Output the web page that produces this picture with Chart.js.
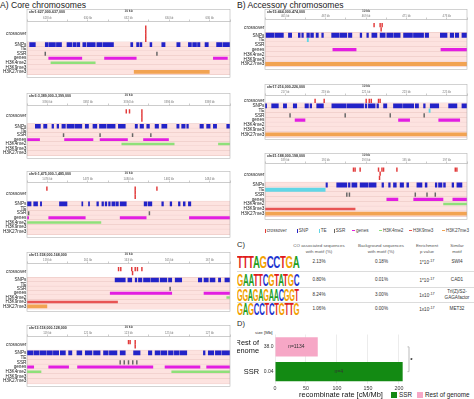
<!DOCTYPE html>
<html>
<head>
<meta charset="utf-8">
<script src="https://cdn.jsdelivr.net/npm/chart.js@4.4.1/dist/chart.umd.min.js"></script>
<style>
  body { margin: 0; width: 474px; height: 399px; position: relative; overflow: hidden; background: #fff;
         font-family: "Liberation Sans", Arial, sans-serif; color: #222; }
  canvas { position: absolute; }
  .t { position: absolute; white-space: nowrap; }
  .c { position: absolute; white-space: nowrap; transform: translate(-50%, -50%); text-align: center; }
  .hdr { font-size: 4.4px; color: #555; line-height: 5.6px; }
  .val { font-size: 4.6px; color: #333; }
  .motif { position: absolute; left: 237px; font-weight: bold; font-family: "Liberation Sans Narrow", "Liberation Sans", sans-serif;
           font-size: 14px; transform-origin: 0 50%; white-space: nowrap; letter-spacing: -0.5px; }
  .sep { position: absolute; left: 237px; width: 237px; height: 0; border-top: 0.6px solid #dcdcdc; }
  .lg { position: absolute; font-size: 4.6px; color: #444; white-space: nowrap; }
  .lg i { display: inline-block; vertical-align: middle; margin-right: 1px; }
  .dl { position: absolute; top: 391px; font-size: 6.3px; color: #222; white-space: nowrap; }
  .dl i { display: inline-block; width: 6px; height: 6px; vertical-align: -1px; margin-right: 2px; }
</style>
</head>
<body>

<div class="t" style="left:0;top:0;font-size:8.6px;">A) Core chromosomes</div>
<div class="t" style="left:237px;top:0;font-size:8.6px;">B) Accessory chromosomes</div>

<!-- panel C -->
<div class="t" style="left:237px;top:240px;font-size:7.5px;">C)</div>
<div class="c hdr" style="left:319px;top:249px;">CO associated sequences<br>with motif (%)</div>
<div class="c hdr" style="left:381px;top:249px;">Background sequences<br>with motif (%)</div>
<div class="c hdr" style="left:427px;top:249px;">Enrichment<br>p value</div>
<div class="c hdr" style="left:457px;top:249px;">Similar<br>motif</div>
<div id="tableC"></div>

<!-- panel D -->
<div class="t" style="left:237px;top:319px;font-size:7.5px;">D)</div>
<div class="t" style="left:255px;top:330px;font-size:4.4px;color:#333;">size [Mb]</div>
<div class="dl" style="left:391px;"><i style="background:#138a13"></i>SSR</div>
<div class="dl" style="left:417px;"><i style="background:#f6a7c6"></i>Rest of genome</div>

<div id="trackLegend"></div>

<script>
  "use strict";

  // ---------- panel A / B data (positions are % of the 10 kb window) ----------
  const trackNames = ["SNPs", "TE", "SSR", "genes", "H3K4me2", "H3K9me3", "H3K27me3"];

  // crossovers are [position, stack level]
  const chr1Crossovers = [[58.5, 0], [58.5, 1], [58.5, 2], [58.5, 3]];
  const chr1Snps = [[1.3, 4.1], [9, 10.5], [11, 14], [14.5, 17], [19.7, 22], [22.6, 24], [24.5, 26], [27.5, 29], [29.6, 33.6],
    [34.4, 37], [37.5, 42.6], [51.1, 52.1], [54, 55], [55.6, 56.6], [60.6, 61.5], [66.4, 68], [73.8, 75.4], [79.5, 81],
    [81.6, 83.5], [84, 85.2], [87.7, 89.3], [93.4, 96], [96.5, 100]];
  const chr1Te = [];
  const chr1Ssr = [9, 64];
  const chr1Genes = [[10.7, 27], [38.2, 53.8], [91.8, 98.7]];
  const chr1K4me2 = [[11.8, 33.6]];
  const chr1K9me3 = [];
  const chr1K27me3 = [[52.8, 89.8]];

  const chr3Crossovers = [[48.9, 0], [50.5, 0], [56.6, 0], [56.6, 1], [56.6, 2]];
  const chr3Snps = [[4.1, 6.6], [8.2, 9.8], [12.3, 13.1], [14.8, 15.6], [17.2, 18.9], [19.7, 23], [23.5, 27], [28.7, 30.3],
    [32.5, 34.4], [35.7, 39], [39.6, 43.4], [45, 48.4], [53.3, 54.4], [55.7, 57.4], [59, 60.3], [63.1, 64.8], [66.4, 68.9],
    [73.8, 74.9], [76.2, 77.9], [78.7, 79.5], [85.2, 86.9], [88.5, 90.2], [91.8, 93.4], [98.4, 100]];
  const chr3Te = [];
  const chr3Ssr = [18, 36, 52, 61];
  const chr3Genes = [[0, 6.2], [18.5, 32.5], [36, 49.5], [57.4, 69.7]];
  const chr3K4me2 = [[46.7, 72.5], [94.3, 100]];
  const chr3K9me3 = [];
  const chr3K27me3 = [];

  const chr9Crossovers = [[9.8, 0], [53.3, 0], [53.3, 1], [53.3, 2], [64, 0]];
  const chr9Snps = [[0, 2], [3.3, 5.2], [6.6, 7.2], [16, 19.7], [27, 27.5], [30.3, 30.8], [34.4, 35.2], [36.9, 37.7],
    [38.5, 39.3], [40.2, 41], [41.8, 43.4], [43.9, 45], [45.9, 48.9], [57.7, 59], [59.6, 61.5], [66.4, 67.2], [70.5, 71.3],
    [74.6, 75.4], [77, 77.9], [79.5, 80.7]];
  const chr9Te = [];
  const chr9Ssr = [0.8, 60.3];
  const chr9Genes = [[0, 0.8], [10.7, 28.7], [45.9, 58.7], [80, 100]];
  const chr9K4me2 = [[0, 36.4]];
  const chr9K9me3 = [];
  const chr9K27me3 = [];

  const chr11Crossovers = [[45.1, 0], [46.2, 0], [51.6, 0], [53.3, 0], [54.4, 0], [56.6, 0], [52, 1]];
  const chr11Snps = [[43.4, 48.4], [49.7, 51.6], [53.3, 54.1], [54.9, 56.6], [57.4, 60.5], [61, 64.8], [65.6, 68.9],
    [69.7, 71.3], [73, 76.2], [84.4, 86.1], [87.2, 89.3], [90.2, 92.6], [94.3, 95.4], [97.5, 100]];
  const chr11Te = [];
  const chr11Ssr = [70.5];
  const chr11Genes = [[41, 71.3], [87.2, 100]];
  const chr11K4me2 = [[98.4, 100]];
  const chr11K9me3 = [[0, 44.6]];
  const chr11K27me3 = [[0, 9.8]];

  const chr13Crossovers = [[50, 0], [50.8, 0], [53.3, 0], [53.3, 1]];
  const chr13Snps = [[0, 3], [3.5, 6], [6.5, 9.5], [10, 12.5], [13, 15.6], [16.4, 18.9], [20.5, 22.1], [24.6, 27], [28.7, 32],
    [32.8, 36], [37.7, 40], [40.6, 44.3], [45.9, 48.4], [52.5, 55.7], [59.8, 61.5], [63.1, 65.5], [66, 68.9], [69.7, 72],
    [72.6, 75], [75.5, 78.7], [86.9, 87.7], [89.3, 92], [92.8, 95.5], [96, 100]];
  const chr13Te = [];
  const chr13Ssr = [45.9, 47.9, 50, 52.1, 54.1];
  const chr13Genes = [[0, 3.3], [10.7, 20.5], [24.9, 62], [68, 85.2], [88.5, 100]];
  const chr13K4me2 = [[0, 6.9], [71.3, 100]];
  const chr13K9me3 = [];
  const chr13K27me3 = [];

  const chr15Crossovers = [[54, 0], [57, 0], [58, 0], [57.5, 1]];
  const chr15Snps = [[0.5, 4.5], [5, 9.1], [11.6, 13.2], [16.5, 17.4], [18.2, 19], [20.7, 22], [22.6, 24], [25.3, 26.4],
    [28.1, 28.9], [33, 36.5], [37, 40.5], [41.3, 43], [47.1, 47.9], [50.4, 51.2], [52.9, 55.4], [57, 59.5], [60.3, 63.5],
    [64, 66.9], [68.6, 73], [73.5, 78.5], [79.3, 81], [86.8, 90.1], [91.7, 93.4], [94.2, 95.9], [97.5, 100]];
  const chr15Te = [[20.9, 21.5]];
  const chr15Ssr = [];
  const chr15Genes = [[33.6, 45.1], [87.1, 100]];
  const chr15K4me2 = [];
  const chr15K9me3 = [];
  const chr15K27me3 = [[0, 100]];

  const chr17Crossovers = [[24.8, 0], [29.3, 0], [50.1, 0], [51.6, 0], [52.6, 0], [56.2, 0], [57, 0]];
  const chr17Snps = [[0, 0.8], [3.3, 6.6], [9.1, 10.7], [14, 15.7], [19.8, 21.5], [22.3, 23.1], [25.6, 28.9], [33.1, 40],
    [40.5, 48.8], [49.6, 50.4], [51.2, 54.5], [55.4, 56.2], [58.7, 60.3], [63.6, 68], [68.5, 73.6], [74.4, 76], [78.5, 79.3],
    [81.8, 86], [90.9, 95], [97.5, 100]];
  const chr17Te = [[81.2, 81.8]];
  const chr17Ssr = [12.4, 39.7, 62, 78.8];
  const chr17Genes = [[14.9, 19.8], [66.1, 71.6], [86, 96.4]];
  const chr17K4me2 = [];
  const chr17K9me3 = [];
  const chr17K27me3 = [[0, 100]];

  const chr21Crossovers = [[43.8, 0], [44.6, 0], [47.1, 0], [56.2, 0], [57.9, 0], [58.7, 0], [65.3, 0], [94.2, 0], [95, 0],
    [57, 1], [56.7, 2]];
  const chr21Snps = [[30.2, 30.9], [35.5, 40.5], [41.3, 42.1], [43, 45.5], [47.1, 51], [51.5, 55], [57.9, 58.7], [61.2, 62],
    [63.6, 65], [66.9, 68.6], [70.2, 71.1], [75.2, 77.7], [79.3, 80.2], [84.3, 85.1], [85.9, 87.6], [88.4, 89.3], [92.6, 93.4],
    [95, 97.5]];
  const chr21Te = [[0, 29.8]];
  const chr21Ssr = [40.5, 41.8, 74.4, 80.2, 84.3];
  const chr21Genes = [[60.3, 65.8], [73.6, 88.1], [93, 100]];
  const chr21K4me2 = [[88.4, 100]];
  const chr21K9me3 = [[0, 44.6]];
  const chr21K27me3 = [[0, 100]];

  const trackColors = ["#2323c8", "#62d6e6", "#666666", "#e21ee2", "#8fe07a", "#e85454", "#f2a352"];
  const trackHeights = [0.72, 0.6, 0.6, 0.42, 0.32, 0.32, 0.55];

  // page layout of each browser panel: top, crossover area top, SNP track top, bottom
  const panels = [
    { label: "chr1:627,000-637,000", startKb: 627, left: 0, width: 232, labelW: 27, padR: 2, top: 9, coTop: 21, snpTop: 42.7, bottom: 81.5,
      tracks: [chr1Crossovers, chr1Snps, chr1Te, chr1Ssr, chr1Genes, chr1K4me2, chr1K9me3, chr1K27me3] },
    { label: "chr3:3,389,000-3,399,000", startKb: 3389, left: 0, width: 232, labelW: 27, padR: 2, top: 93, coTop: 105, snpTop: 124, bottom: 162,
      tracks: [chr3Crossovers, chr3Snps, chr3Te, chr3Ssr, chr3Genes, chr3K4me2, chr3K9me3, chr3K27me3] },
    { label: "chr9:1,475,000-1,485,000", startKb: 1475, left: 0, width: 232, labelW: 27, padR: 2, top: 171, coTop: 182, snpTop: 201.5, bottom: 241,
      tracks: [chr9Crossovers, chr9Snps, chr9Te, chr9Ssr, chr9Genes, chr9K4me2, chr9K9me3, chr9K27me3] },
    { label: "chr11:158,000-168,000", startKb: 158, left: 0, width: 232, labelW: 27, padR: 2, top: 251.5, coTop: 262.5, snpTop: 277, bottom: 315,
      tracks: [chr11Crossovers, chr11Snps, chr11Te, chr11Ssr, chr11Genes, chr11K4me2, chr11K9me3, chr11K27me3] },
    { label: "chr13:118,000-128,000", startKb: 118, left: 0, width: 232, labelW: 27, padR: 2, top: 325, coTop: 336, snpTop: 350, bottom: 390,
      tracks: [chr13Crossovers, chr13Snps, chr13Te, chr13Ssr, chr13Genes, chr13K4me2, chr13K9me3, chr13K27me3] },
    { label: "chr15:464,000-474,000", startKb: 464, left: 237, width: 237, labelW: 28, padR: 7, top: 9, coTop: 19, snpTop: 32, bottom: 73,
      tracks: [chr15Crossovers, chr15Snps, chr15Te, chr15Ssr, chr15Genes, chr15K4me2, chr15K9me3, chr15K27me3] },
    { label: "chr17:216,000-226,000", startKb: 216, left: 237, width: 237, labelW: 28, padR: 7, top: 84, coTop: 95, snpTop: 102, bottom: 143,
      tracks: [chr17Crossovers, chr17Snps, chr17Te, chr17Ssr, chr17Genes, chr17K4me2, chr17K9me3, chr17K27me3] },
    { label: "chr21:188,000-198,000", startKb: 188, left: 237, width: 237, labelW: 28, padR: 7, top: 153, coTop: 163, snpTop: 182.5, bottom: 223,
      tracks: [chr21Crossovers, chr21Snps, chr21Te, chr21Ssr, chr21Genes, chr21K4me2, chr21K9me3, chr21K27me3] }
  ];

  const legendNames = ["crossover", "SNP", "TE", "SSR", "genes", "H3K4me2", "H3K9me3", "H3K27me3"];
  const legendColors = ["#e23b3b", "#2323c8", "#62d6e6", "#666666", "#e21ee2", "#8fe07a", "#e85454", "#f2a352"];

  // ---------- panel C data ----------
  const motifs = ["TTTAGCCTGA", "GAATTCGTATGC", "GGAGAGAACGGT", "GAGCCTCTGTTG"];
  const coPercent = ["2.13%", "0.80%", "8.24%", "1.06%"];
  const bgPercent = ["0.18%", "0.01%", "3.00%", "0.00%"];
  const pValues = ["1*10<sup>-17</sup>", "1*10<sup>-17</sup>", "1x10<sup>-17</sup>", "1x10<sup>-17</sup>"];
  const similarMotif = ["SWI4", "CAD1", "Trl(Z)/S2-<br>GAGAfactor", "MET32"];
  const letterColors = { A: "#1f9e1f", C: "#1f35d0", G: "#f3a100", T: "#e01b1b" };

  // ---------- panel D data ----------
  const dCategories = [["Rest of", "genome"], "SSR"];
  const dSizes = ["38.0", "0.04"];
  const dRates = [69, 206];
  const dCounts = ["n=1134", "n=4"];

  function gen(tag) {
    return document.createElement(tag);
  }

  function addCanvas(left, top, width, height) {
    let canvas = gen("canvas");
    canvas.width = width;
    canvas.height = height;
    canvas.style.left = left + "px";
    canvas.style.top = top + "px";
    document.body.appendChild(canvas);
    return canvas;
  }

  // frame round a browser panel plus the region label in its header
  const panelFrame = {
    id: "panelFrame",
    afterDraw(chart, args, opts) {
      let ctx = chart.ctx;
      let a = chart.chartArea;
      ctx.save();
      ctx.strokeStyle = "#b5b5b5";
      ctx.lineWidth = 0.6;
      ctx.strokeRect(a.left, 0.5, a.right - a.left, a.bottom - 0.5);
      ctx.font = "bold 3.6px 'Liberation Sans'";
      ctx.fillStyle = "#333";
      ctx.textBaseline = "top";
      ctx.fillText(opts.label, a.left + 2, 1.6);
      ctx.restore();
    }
  };

  function browserChart(p) {
    let height = p.bottom - p.top;
    let canvas = addCanvas(p.left, p.top, p.width, height);
    let laneH = (p.bottom - p.snpTop) / 7;
    let coSpan = (p.snpTop - p.coTop) / laneH;
    let yMin = -0.5 - coSpan;
    let levelY = k => yMin + (1.2 + (k + 0.5) * 5) / laneH;

    let datasets = [{
      data: p.tracks[0].map(c => ({ x: [c[0] - 0.2, c[0] + 0.2], y: levelY(c[1]) })),
      backgroundColor: "#e23b3b",
      barThickness: 3.6
    }];
    for (let i = 0; i < trackNames.length; i++) {
      let marks = p.tracks[i + 1];
      if (!marks.length) {
        continue;
      }
      let isTick = !Array.isArray(marks[0]);
      datasets.push({
        data: marks.map(m => ({ x: isTick ? [m - 0.2, m + 0.2] : m, y: i })),
        backgroundColor: trackColors[i],
        barThickness: laneH * trackHeights[i]
      });
    }
    // pink track backgrounds go last so they are painted underneath
    datasets.push({
      data: trackNames.map((name, i) => ({ x: [0, 100], y: i })),
      backgroundColor: "#fde3e0",
      borderColor: "#e6c0bd",
      borderWidth: 0.5,
      borderSkipped: false,
      barThickness: laneH
    });
    datasets.forEach(d => { d.stack = "all"; });

    new Chart(canvas, {
      type: "bar",
      data: { datasets: datasets },
      plugins: [panelFrame],
      options: {
        indexAxis: "y",
        responsive: false,
        animation: false,
        events: [],
        layout: { padding: { left: 0, right: p.padR, top: 0, bottom: 0.5 } },
        plugins: {
          legend: { display: false },
          tooltip: { enabled: false },
          panelFrame: { label: p.label }
        },
        scales: {
          x: {
            type: "linear",
            position: "top",
            min: 0,
            max: 100,
            stacked: false,
            ticks: {
              stepSize: 10,
              autoSkip: false,
              maxRotation: 0,
              padding: 0,
              font: { size: 2.8 },
              color: "#777",
              callback: v => (v % 20 === 10 ? (p.startKb + v / 10) + " kb" : "")
            },
            grid: { drawOnChartArea: false, tickLength: 1.5, color: "#999", lineWidth: 0.5 },
            border: { display: true, color: "#999", width: 0.5 },
            title: { display: true, text: "10 kb", font: { size: 3.2, weight: "bold" }, color: "#444", padding: 0 },
            afterFit: s => { s.height = p.coTop - p.top; }
          },
          y: {
            type: "linear",
            reverse: true,
            min: yMin,
            max: 6.5,
            afterBuildTicks: s => {
              s.ticks = [{ value: yMin + coSpan / 2 }].concat(trackNames.map((n, i) => ({ value: i })));
            },
            ticks: {
              autoSkip: false,
              padding: 0.6,
              font: { size: 4.7 },
              color: "#222",
              callback: v => (v < -0.5 ? "crossover" : trackNames[v])
            },
            grid: { display: false, drawTicks: false },
            border: { display: false },
            afterFit: s => { s.width = p.labelW; }
          }
        }
      }
    });
  }

  function trackLegend() {
    let xs = [265, 297, 319, 334, 352, 379, 409, 442];
    let box = document.getElementById("trackLegend");
    legendNames.forEach((name, i) => {
      let d = gen("div");
      d.className = "lg";
      d.style.left = xs[i] + "px";
      d.style.top = "228px";
      let glyph = i < 4 ? "width:0.8px;height:4px;" : "width:3px;height:1.4px;";
      d.innerHTML = "<i style='" + glyph + "background:" + legendColors[i] + "'></i>" + name;
      box.appendChild(d);
    });
  }

  function tableC() {
    let box = document.getElementById("tableC");
    let rowsY = [262, 279.5, 294.5, 309];
    [271, 287, 302].forEach(y => {
      let s = gen("div");
      s.className = "sep";
      s.style.top = y + "px";
      box.appendChild(s);
    });
    motifs.forEach((m, r) => {
      let d = gen("div");
      d.className = "motif";
      d.innerHTML = m.split("").map(ch => "<span style='color:" + letterColors[ch] + "'>" + ch + "</span>").join("");
      box.appendChild(d);
      let w = d.scrollWidth;
      let h = d.offsetHeight;
      d.style.top = (rowsY[r] - h / 2) + "px";
      d.style.transform = "scale(" + (62 / w) + ", 1.2)";
      let cols = [[319, coPercent[r]], [381.5, bgPercent[r]], [427, pValues[r]], [457, similarMotif[r]]];
      cols.forEach(c => {
        let v = gen("div");
        v.className = "c val";
        v.style.left = c[0] + "px";
        v.style.top = rowsY[r] + "px";
        v.style.lineHeight = "6px";
        v.innerHTML = c[1];
        box.appendChild(v);
      });
    });
  }

  const dExtras = {
    id: "dExtras",
    afterDatasetsDraw(chart) {
      let ctx = chart.ctx;
      let x = chart.scales.x;
      let y = chart.scales.y;
      ctx.save();
      ctx.font = "5px 'Liberation Sans'";
      ctx.fillStyle = "#333";
      ctx.textAlign = "center";
      ctx.textBaseline = "middle";
      dRates.forEach((v, i) => {
        ctx.fillText(dCounts[i], x.getPixelForValue(v / 2), y.getPixelForValue(i));
      });
      // significance bracket between the two groups, just right of the panel
      let bx = chart.chartArea.right + 2;
      let y0 = y.getPixelForValue(0);
      let y1 = y.getPixelForValue(1);
      ctx.strokeStyle = "#bbb";
      ctx.lineWidth = 1;
      ctx.beginPath();
      ctx.moveTo(bx - 1.5, y0);
      ctx.lineTo(bx, y0);
      ctx.lineTo(bx, y1);
      ctx.lineTo(bx - 1.5, y1);
      ctx.stroke();
      ctx.fillStyle = "#111";
      ctx.font = "bold 6px 'Liberation Sans'";
      ctx.fillText("*", bx + 2.5, (y0 + y1) / 2 + 1);
      ctx.restore();
    }
  };

  function rateChart() {
    let canvas = addCanvas(237, 330, 237, 69);
    new Chart(canvas, {
      type: "bar",
      data: {
        labels: dCategories,
        datasets: [
          { label: "SSR", data: [null, dRates[1]], backgroundColor: "#138a13" },
          { label: "Rest of genome", data: [dRates[0], null], backgroundColor: "#f6a7c6" }
        ]
      },
      plugins: [dExtras],
      options: {
        indexAxis: "y",
        responsive: false,
        animation: false,
        events: [],
        datasets: { bar: { grouped: false, barPercentage: 0.78, categoryPercentage: 1 } },
        layout: { padding: { top: 3, right: 67, left: 0, bottom: 0 } },
        plugins: { legend: { display: false }, tooltip: { enabled: false } },
        scales: {
          x: {
            min: 0,
            max: 213,
            ticks: { stepSize: 50, includeBounds: false, font: { size: 5.3 }, color: "#333", padding: 1 },
            grid: { color: "#ececec", drawTicks: false },
            border: { display: false },
            title: { display: true, text: "recombinate rate [cM/Mb]", font: { size: 7.4 }, color: "#111", padding: 0 },
            afterFit: s => { s.height = 15; }
          },
          ySize: {
            type: "category",
            labels: dSizes,
            position: "left",
            weight: 0,
            ticks: { font: { size: 5 }, color: "#333", padding: 1.5 },
            grid: { display: false, drawTicks: false },
            border: { display: false },
            afterFit: s => { s.width = 16; }
          },
          y: {
            position: "left",
            weight: 1,
            ticks: { font: { size: 7.4, lineHeight: 1.1 }, color: "#111", padding: 0 },
            grid: { display: false, drawTicks: false },
            border: { display: false },
            afterFit: s => { s.width = 22; }
          }
        }
      }
    });
  }

  panels.forEach(browserChart);
  trackLegend();
  tableC();
  rateChart();
</script>
</body>
</html>
